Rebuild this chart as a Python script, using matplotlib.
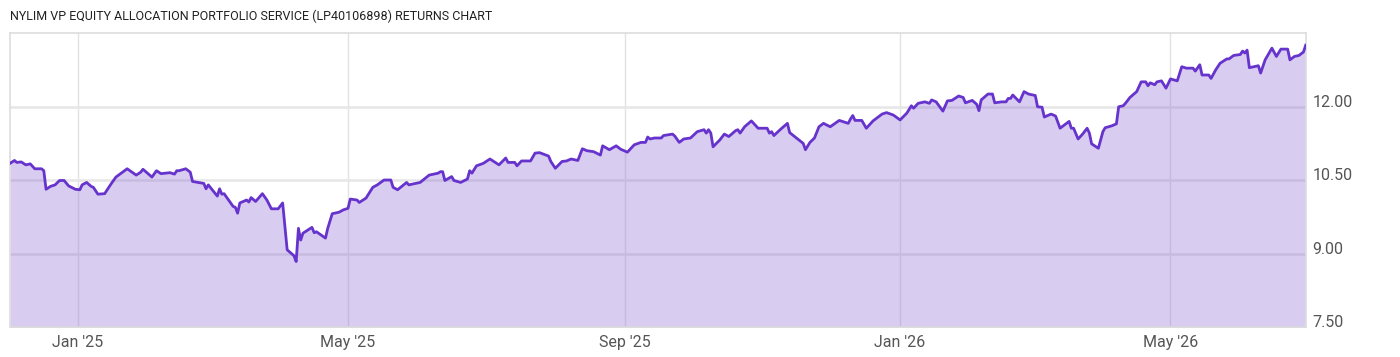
import numpy as np
import matplotlib
matplotlib.use("Agg")
import matplotlib.pyplot as plt
import matplotlib.dates as mdates
from matplotlib.ticker import FormatStrFormatter

plt.rcParams['font.family'] = ['Roboto', 'DejaVu Sans']

title = "NYLIM VP EQUITY ALLOCATION PORTFOLIO SERVICE (LP40106898) RETURNS CHART"
start = np.datetime64('2024-12-01')

# days after 2024-12-01
days = [1, 3, 4, 6, 8, 10, 12, 15, 16, 17, 19, 21, 23, 25, 27, 30, 32, 33, 35, 37, 38, 40, 43, 46, 48,
        53, 57, 59, 60, 64, 66, 68, 70, 72, 74, 75, 76, 79, 81, 82, 87, 88, 89, 93, 94, 95, 96, 100, 101,
        102, 103, 106, 107, 108, 110, 113, 115, 117, 120, 122, 124, 127, 128, 129, 130, 131, 135, 136,
        137, 141, 142, 144, 147, 149, 151, 152, 155, 156, 159, 162, 164, 167, 170, 171, 173, 177, 178,
        183, 187, 191, 192, 193, 194, 197, 198, 201, 204, 205, 206, 208, 211, 214, 218, 221, 222, 225,
        226, 228, 232, 234, 236, 240, 241, 243, 246, 248, 250, 253, 255, 257, 260, 263, 264, 267, 270,
        272, 275, 278, 281, 283, 284, 285, 287, 290, 291, 295, 296, 298, 300, 303, 306, 309, 310, 311,
        312, 313, 316, 317, 318, 320, 323, 324, 325, 327, 330, 333, 337, 338, 339, 340, 343, 346, 347,
        353, 354, 356, 358, 360, 362, 365, 369, 373, 374, 375, 376, 379, 381, 384, 388, 390, 393, 396,
        399, 401, 402, 404, 407, 409, 410, 412, 415, 417, 419, 422, 424, 425, 428, 430, 431, 432, 435,
        437, 438, 441, 443, 444, 445, 446, 449, 451, 453, 456, 457, 459, 460, 463, 465, 467, 469, 471,
        472, 473, 475, 477, 479, 480, 481, 484, 486, 487, 490, 492, 493, 495, 496, 498, 501, 503, 505,
        506, 507, 509, 510, 512, 514, 516, 519, 521, 523, 526, 527, 529, 530, 533, 534, 536, 538, 541,
        542, 544, 547, 548, 549, 550, 551, 555, 556, 558, 561, 563, 565, 568, 569, 571, 573, 575, 576]

values = [10.85, 10.91, 10.87, 10.88, 10.82, 10.84, 10.74, 10.74, 10.70, 10.32, 10.38, 10.41, 10.50,
          10.50, 10.39, 10.32, 10.31, 10.41, 10.46, 10.38, 10.36, 10.22, 10.23, 10.44, 10.57, 10.74,
          10.61, 10.67, 10.73, 10.57, 10.70, 10.64, 10.65, 10.66, 10.63, 10.70, 10.70, 10.74, 10.67,
          10.48, 10.44, 10.33, 10.41, 10.18, 10.33, 10.22, 10.23, 9.97, 9.95, 9.83, 10.04, 10.10, 10.06,
          10.15, 10.07, 10.23, 10.10, 9.92, 9.92, 10.04, 9.08, 8.96, 8.84, 9.52, 9.28, 9.42, 9.54, 9.43,
          9.45, 9.32, 9.52, 9.82, 9.85, 9.90, 9.93, 10.12, 10.10, 10.05, 10.14, 10.36, 10.41, 10.51,
          10.51, 10.36, 10.31, 10.46, 10.41, 10.46, 10.61, 10.65, 10.68, 10.68, 10.50, 10.58, 10.50,
          10.46, 10.53, 10.70, 10.65, 10.80, 10.85, 10.94, 10.82, 10.96, 10.87, 10.87, 10.80, 10.90,
          10.90, 11.06, 11.07, 11.00, 10.89, 10.75, 10.89, 10.90, 10.94, 10.91, 11.15, 11.11, 11.09,
          11.02, 11.21, 11.13, 11.21, 11.14, 11.08, 11.23, 11.28, 11.28, 11.39, 11.35, 11.37, 11.37,
          11.42, 11.45, 11.41, 11.28, 11.35, 11.37, 11.50, 11.54, 11.47, 11.54, 11.47, 11.19, 11.33,
          11.39, 11.45, 11.40, 11.52, 11.54, 11.47, 11.60, 11.72, 11.57, 11.57, 11.47, 11.50, 11.42,
          11.55, 11.67, 11.48, 11.26, 11.13, 11.28, 11.37, 11.60, 11.67, 11.60, 11.73, 11.67, 11.76,
          11.83, 11.73, 11.73, 11.57, 11.72, 11.86, 11.89, 11.84, 11.74, 11.88, 12.03, 11.98, 12.08,
          12.11, 12.08, 12.15, 12.11, 11.92, 12.13, 12.14, 12.23, 12.20, 12.09, 12.14, 12.06, 11.93,
          12.15, 12.27, 12.27, 12.09, 12.11, 12.11, 12.18, 12.18, 12.25, 12.11, 12.32, 12.27, 12.24,
          12.01, 12.00, 11.80, 11.86, 11.82, 11.57, 11.64, 11.71, 11.57, 11.57, 11.35, 11.45, 11.57,
          11.47, 11.25, 11.16, 11.50, 11.58, 11.62, 11.66, 12.01, 12.03, 12.08, 12.20, 12.32, 12.52,
          12.52, 12.44, 12.50, 12.46, 12.52, 12.54, 12.39, 12.58, 12.54, 12.83, 12.80, 12.80, 12.74,
          12.87, 12.66, 12.66, 12.59, 12.76, 12.90, 12.99, 12.99, 13.06, 13.08, 13.15, 13.11, 13.17,
          12.81, 12.85, 12.70, 12.97, 13.21, 13.04, 13.19, 13.19, 12.97, 13.04, 13.06, 13.13, 13.27]

yticks = [7.5, 9.0, 10.5, 12.0]

dates = start + np.array(days).astype('timedelta64[D]')
dates = dates.astype('datetime64[ms]').astype(object)

fig = plt.figure(figsize=(14, 3.57), dpi=100)
ax = fig.add_axes([10 / 1400, 30 / 357, 1295.7 / 1400, 294 / 357])

ax.fill_between(dates, values, 7.0, color='#8a66d6', alpha=0.33, lw=0, zorder=2)
ax.plot(dates, values, color='#6633cc', lw=2.0, zorder=3)

ax.set_ylim(7.5, 13.52)
ax.set_xlim(dates[0], dates[-1])

ax.yaxis.tick_right()
ax.set_yticks(yticks)
ax.yaxis.set_major_formatter(FormatStrFormatter('%.2f'))
ax.xaxis.set_major_locator(mdates.MonthLocator(bymonth=[1, 5, 9]))
ax.xaxis.set_major_formatter(mdates.DateFormatter("%b '%y"))

ax.tick_params(axis='y', length=0, labelsize=11.5, labelcolor='#555555', pad=5)
ax.tick_params(axis='x', length=0, labelsize=11.5, labelcolor='#555555', pad=6)
for lbl in ax.get_yticklabels():
    lbl.set_va('baseline')

ax.set_axisbelow(True)
ax.yaxis.grid(True, color='#e6e6e6', lw=1.8)
ax.xaxis.grid(True, color='#e3e3e3', lw=1)

for s in ax.spines.values():
    s.set_color('#dddddd')
    s.set_linewidth(1.2)

fig.text(10 / 1400, 1 - 16 / 357, title, fontsize=9, va='center', color='#222222')

fig.savefig('out.png', dpi=100)
